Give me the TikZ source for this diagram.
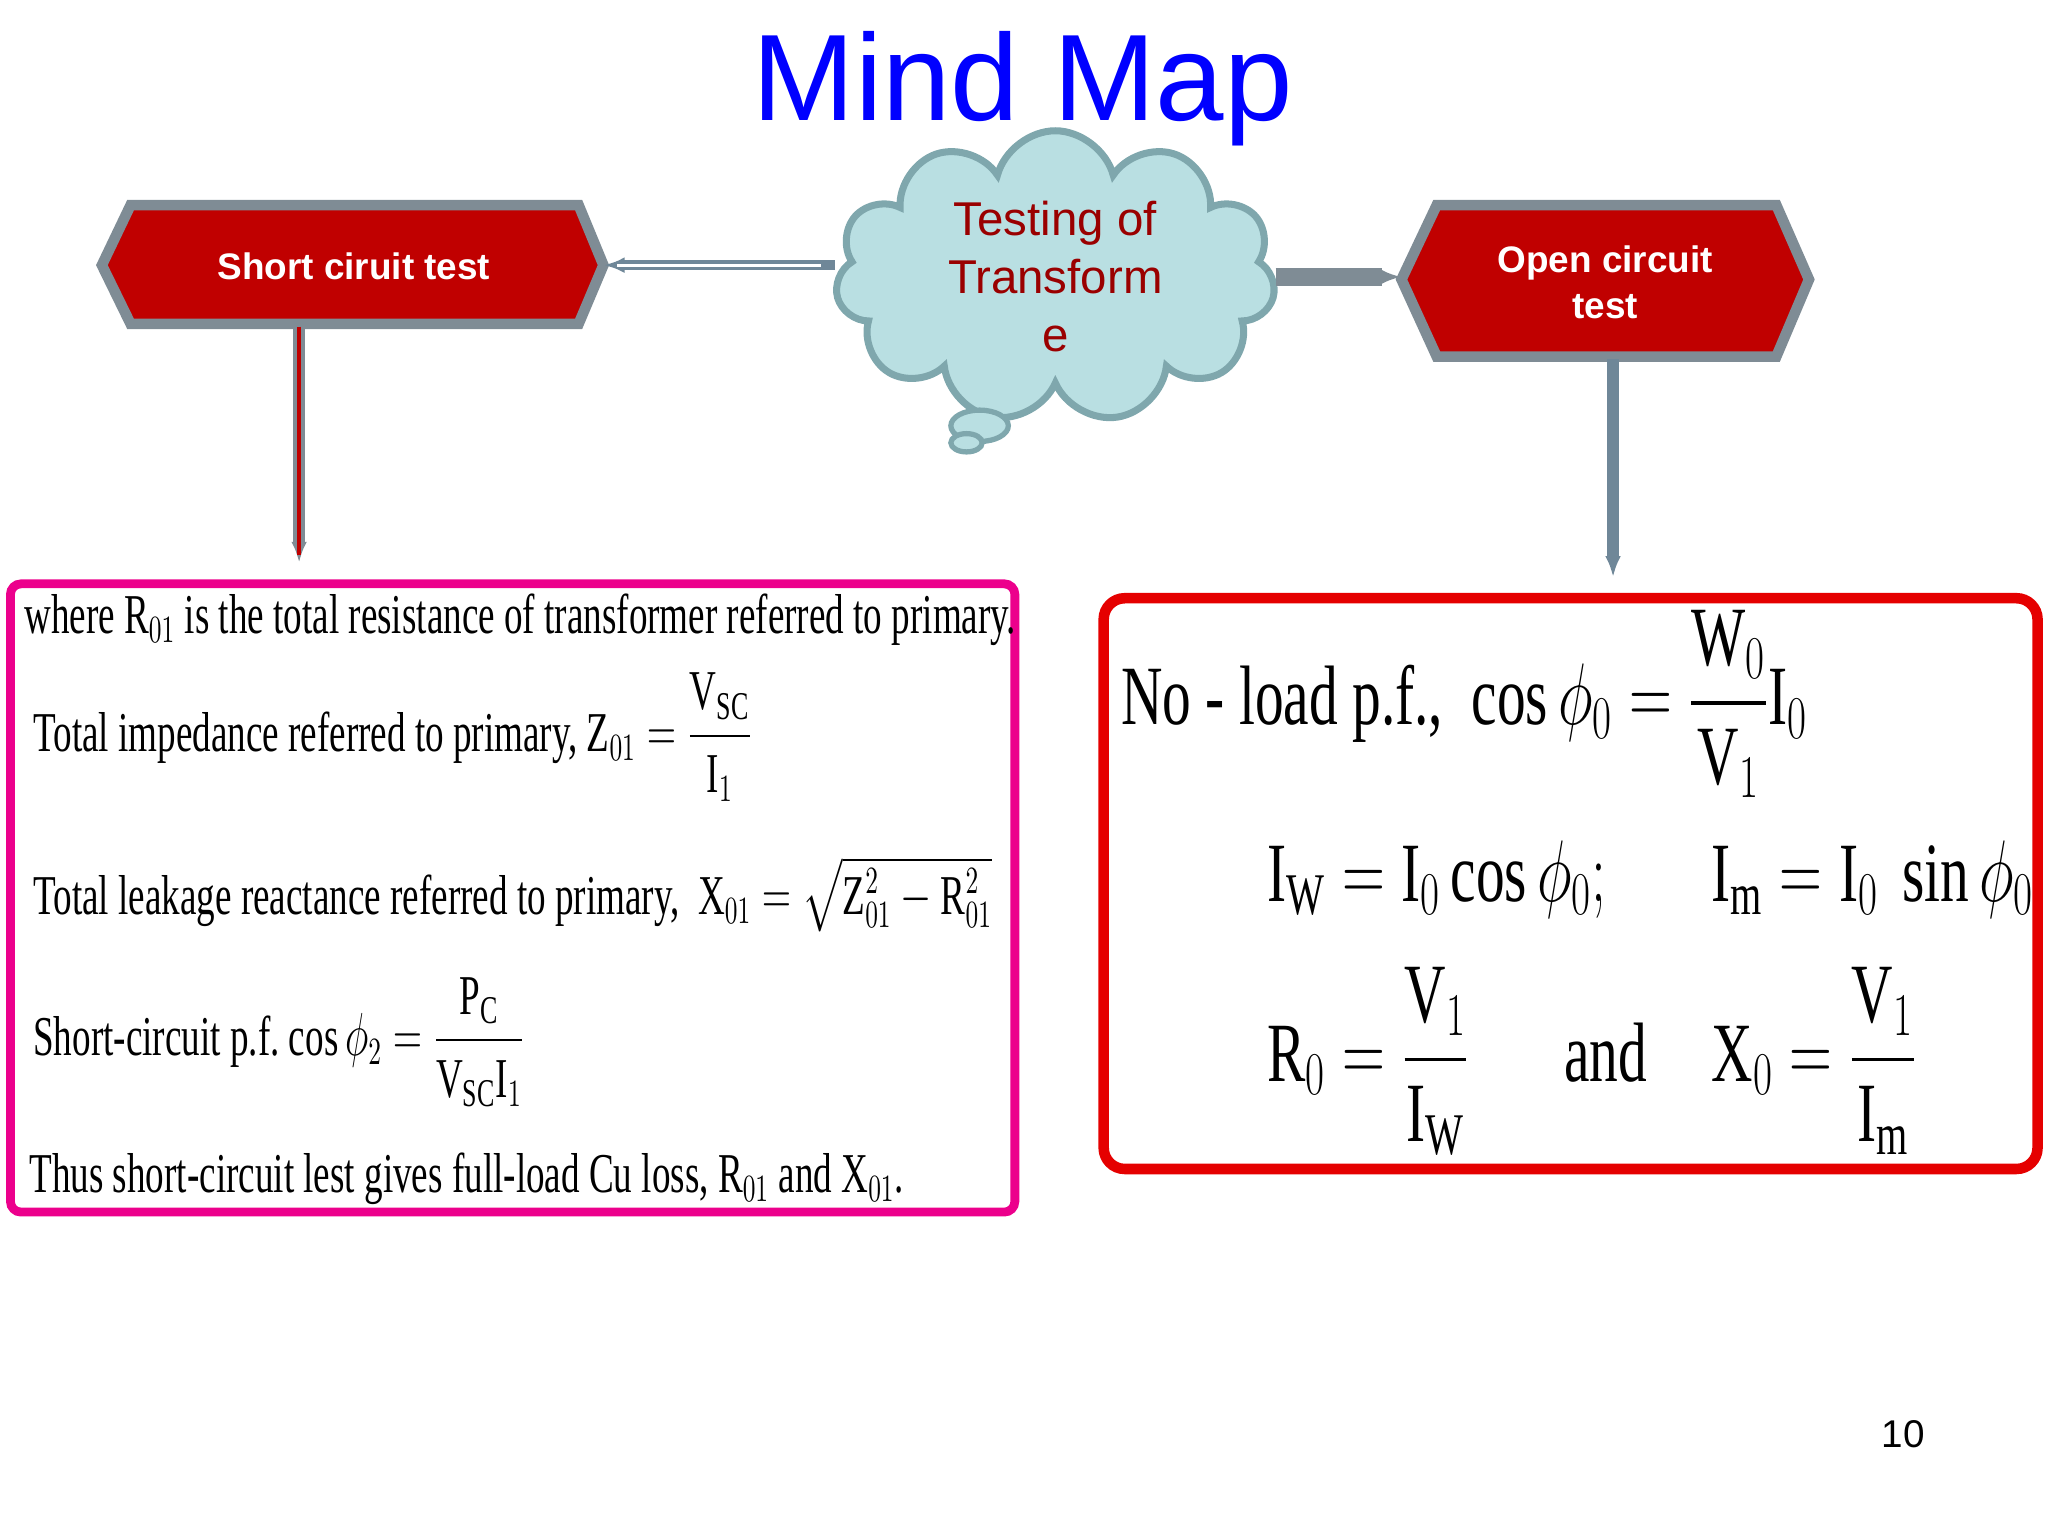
\documentclass[tikz,border=0pt]{standalone}
\usepackage{fontspec}
\usepackage{amsmath}
\usepackage{graphicx}
\setmainfont{Liberation Serif}
\newfontfamily\arial{Liberation Sans}
\usetikzlibrary{shapes.symbols,arrows.meta}
\definecolor{hexred}{HTML}{C00000}
\definecolor{hexline}{HTML}{7F8C95}
\definecolor{cloudfill}{HTML}{B9DFE2}
\definecolor{cloudline}{HTML}{7FA7AD}
\definecolor{conn}{HTML}{6F8798}
\newcommand\cmp[1]{\scalebox{0.66}[1]{#1}}
\newcommand\cmq[1]{\scalebox{0.68}[1]{#1}}
\begin{document}
\begin{tikzpicture}[x=0.013061cm,y=-0.013061cm,
  hexbox/.style={fill=hexred,draw=hexline,line width=3pt},
  hextext/.style={text=white,font=\arial\bfseries\fontsize{10.5}{13}\selectfont,align=center},
  lefttxt/.style={anchor=base west,inner sep=0pt,font=\fontsize{16}{19}\selectfont},
  righttxt/.style={anchor=base west,inner sep=0pt,font=\fontsize{24}{28}\selectfont}]
\useasboundingbox (0,0) rectangle (1568,1176);
\node[text=blue,font=\arial\fontsize{35}{40}\selectfont] (title) at (783,68) {Mind Map};
% hexagons
\draw[hexbox] (78,203)--(100,157)--(443,157)--(462,203)--(443,248)--(100,248)--cycle;
\node[hextext] (sct) at (271,204) {Short ciruit test};
\draw[hexbox] (1073,214)--(1100,157)--(1360,157)--(1385,214)--(1360,273)--(1100,273)--cycle;
\node[hextext] (oct) at (1229,216) {Open circuit\\test};
\coordinate (lhex) at (462,203);
\coordinate (rhex) at (1073,212);
\coordinate (lhexb) at (229,250);
\coordinate (rhexb) at (1235,275);
% cloud
\node[cloud,cloud puffs=11,aspect=1.9,minimum width=4.4cm,minimum height=2.3cm,fill=cloudfill,draw=cloudline,line width=2pt,
  align=center,text=hexred!80!black,font=\arial\fontsize{13.5}{16.5}\selectfont,inner sep=0pt] (cl) at (808,212) {Testing of\\Transform\\e};
\draw[fill=cloudfill,draw=cloudline,line width=1.5pt] (750,326) ellipse (22 and 12);
\draw[fill=cloudfill,draw=cloudline,line width=1.5pt] (740,339) ellipse (12 and 7);
% connectors
\draw[conn,line width=3pt,-{Latex[length=6pt]}] (cl.west|-lhex) -- (lhex);
\draw[white,line width=0.8pt] ([xshift=-4pt]cl.west|-lhex) -- ([xshift=4pt]lhex);
\draw[hexline,line width=5pt,-{Latex[length=6pt]}] (cl.east|-rhex) -- (rhex);
\draw[hexline,line width=3.5pt,-{Latex[length=6pt]}] (lhexb) -- (229,431);
\draw[hexred,line width=1pt] (lhexb) -- (229,425);
\draw[conn,line width=3.5pt,-{Latex[length=6pt]}] (rhexb) -- (1235,442);
% left box
\draw[magenta,line width=2.5pt,rounded corners=3pt] (8,447) rectangle (777,928);
\node[lefttxt] (l1) at (18,485) {\cmp{where R$_{01}$ is the total resistance of transformer referred to primary.}};
\node[lefttxt] (l2) at (25,575) {\cmp{Total impedance referred to primary, $\mathrm{Z}_{01} = \dfrac{\mathrm{V}_{\mathrm{SC}}}{\mathrm{I}_1}$}};
\node[lefttxt] (l3) at (25,700) {\cmp{Total leakage reactance referred to primary,\ \ $\mathrm{X}_{01} = \sqrt{\mathrm{Z}_{01}^2 - \mathrm{R}_{01}^2}$}};
\node[lefttxt] (l4) at (25,808) {\cmp{Short-circuit p.f.\ $\cos\phi_2 = \dfrac{\mathrm{P}_{\mathrm{C}}}{\mathrm{V}_{\mathrm{SC}}\mathrm{I}_1}$}};
\node[lefttxt] (l5) at (22,913) {\cmp{Thus short-circuit lest gives full-load Cu loss, R$_{01}$ and X$_{01}$.}};
% right box
\draw[red!90!black,line width=3pt,rounded corners=6pt] (845,458) rectangle (1560,895);
\node[righttxt] (r1) at (858,555) {\cmq{No - load\ p.f.,\ \ $\cos\phi_0 = \dfrac{\mathrm{W}_0}{\mathrm{V}_1}\mathrm{I}_0$}};
\node[righttxt] (r2a) at (970,690) {\cmq{$\mathrm{I_W} = \mathrm{I}_0\cos\phi_0;$}};
\node[righttxt] (r2b) at (1310,690) {\cmq{$\mathrm{I_m} = \mathrm{I}_0\ \sin\phi_0$}};
\node[righttxt] (r3a) at (970,828) {\cmq{$\mathrm{R}_0 = \dfrac{\mathrm{V}_1}{\mathrm{I_W}}$}};
\node[righttxt] (r3b) at (1197,828) {\cmq{and}};
\node[righttxt] (r3c) at (1310,828) {\cmq{$\mathrm{X}_0 = \dfrac{\mathrm{V}_1}{\mathrm{I_m}}$}};
\node[font=\arial\fontsize{11}{13}\selectfont] (pg) at (1457,1098) {10};
\end{tikzpicture}
\end{document}
